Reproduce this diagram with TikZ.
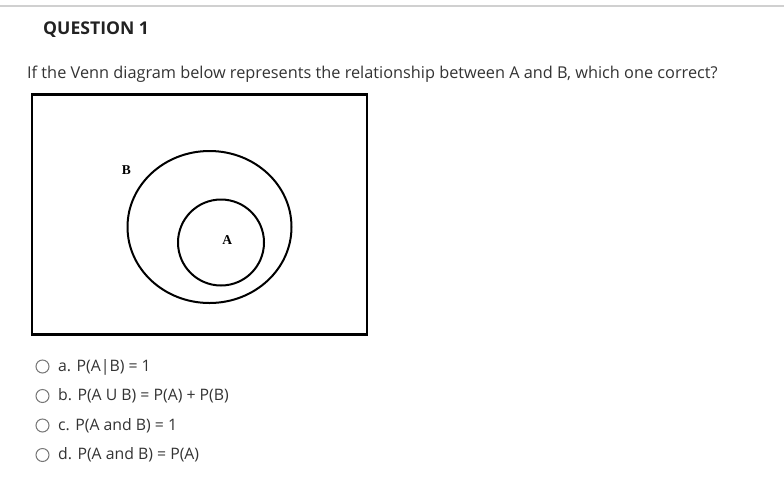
\documentclass[tikz,border=0pt]{standalone}
\usetikzlibrary{shapes.geometric}
\usepackage{fontspec}
\setmainfont{Open Sans}
\newfontfamily\serifb{Liberation Serif}
\definecolor{txt}{HTML}{333333}
\definecolor{head}{HTML}{222222}
\definecolor{rule}{HTML}{D0D0D0}
\definecolor{radio}{HTML}{777777}
\begin{document}
\begin{tikzpicture}[x=1pt,y=-1pt,
  opt/.style={anchor=base west,inner sep=0pt,text=txt,font=\fontsize{15.8}{18}\selectfont},
  radiobtn/.style={circle,draw=radio,line width=1pt,minimum size=13pt,inner sep=0pt},
  setlbl/.style={font=\serifb\bfseries\fontsize{13.5}{15}\selectfont,inner sep=0pt}]
\useasboundingbox (0,0) rectangle (784,491);
\fill[white] (0,0) rectangle (784,491);
\coordinate (rl) at (0,6);
\coordinate (rr) at (784,6);
\draw[rule,line width=1.2pt] (rl) -- (rr);
\node[anchor=base west,inner sep=0pt,text=head,font=\bfseries\fontsize{17.6}{21}\selectfont] (q) at (43,34) {QUESTION 1};
\node[opt,font=\fontsize{16.3}{19}\selectfont] (stem) at (27,78) {If the Venn diagram below represents the relationship between A and B, which one correct?};
\node[draw,line width=2.6pt,minimum width=335pt,minimum height=240pt,inner sep=0pt] (box) at (199.5,214.5) {};
\node[ellipse,draw,line width=2pt,minimum width=164pt,minimum height=152pt,inner sep=0pt] (B) at (209.5,227) {};
\node[circle,draw,line width=2pt,minimum size=86pt,inner sep=0pt] (A) at (221,242.5) {};
\node[setlbl] (lb) at (126.3,170) {B};
\node[setlbl] (la) at (227.3,240) {A};
\node[radiobtn] (ra) at (42.5,366.5) {};
\node[radiobtn] (rb) at (42.5,396) {};
\node[radiobtn] (rc) at (42.5,425.5) {};
\node[radiobtn] (rd) at (42.5,455) {};
\node[opt] (oa) at (58,371) {a. P(A|B) = 1};
\node[opt] (ob) at (58,400.5) {b. P(A U B) = P(A) + P(B)};
\node[opt] (oc) at (58,430) {c. P(A and B) = 1};
\node[opt] (od) at (58,459.5) {d. P(A and B) = P(A)};
\end{tikzpicture}
\end{document}
